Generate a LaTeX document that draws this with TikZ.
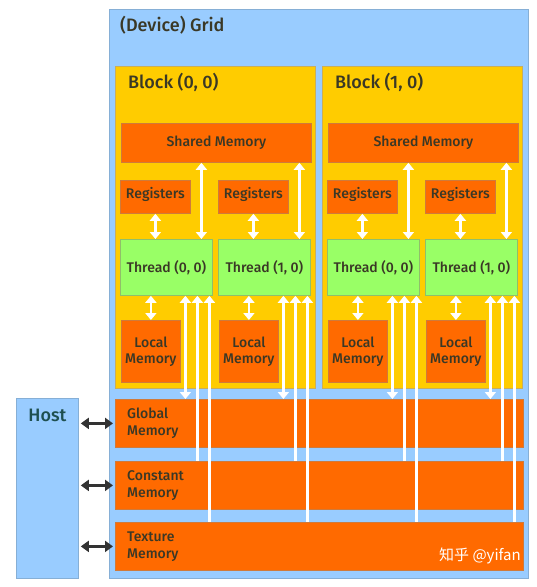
\documentclass[tikz,border=0pt]{standalone}
\usepackage{fontspec}
\setmainfont{Fira Sans}[UprightFont=* Medium]
\newfontfamily\cjk{Noto Sans CJK SC}
\usetikzlibrary{arrows.meta}

\definecolor{gridblue}{HTML}{99CCFF}
\definecolor{gridedge}{HTML}{86AFD6}
\definecolor{blockyellow}{HTML}{FFCC00}
\definecolor{blockedge}{HTML}{C9AE5A}
\definecolor{memorange}{HTML}{FF6A00}
\definecolor{memedge}{HTML}{D07A3A}
\definecolor{threadgreen}{HTML}{99FF66}
\definecolor{threadedge}{HTML}{8FBF6A}
\definecolor{labeltext}{HTML}{3A3826}
\definecolor{hosttext}{HTML}{1E4F4F}

\begin{document}
\begin{tikzpicture}
  [x=1pt, y=-1pt,
   box/.style={anchor=north west, inner sep=0pt, line width=0.8pt, text=labeltext,
     font=\fontsize{14}{16}\selectfont},
   area/.style={box, fill=gridblue, draw=gridedge},
   blockbox/.style={box, fill=blockyellow, draw=blockedge},
   mem/.style={box, fill=memorange, draw=memedge},
   threadbox/.style={box, fill=threadgreen, draw=threadedge},
   title/.style={anchor=west, inner sep=0pt, text=labeltext, font=\fontsize{18}{20}\selectfont},
   memlabel/.style={anchor=west, inner sep=0pt, align=left, text=labeltext,
     font=\fontsize{14}{17}\selectfont},
   warrow/.style={draw=white, line width=2.6pt,
     {Triangle[width=11pt,length=7pt]}-{Triangle[width=11pt,length=7pt]}},
   uparrow/.style={draw=white, line width=2.6pt, {Triangle[width=11pt,length=7pt]}-},
   harrow/.style={draw=black!80, line width=2.4pt, shorten <=2pt, shorten >=2pt,
     {Triangle[width=11pt,length=8pt]}-{Triangle[width=11pt,length=8pt]}}]

  \fill[white] (0,0) rectangle (537,587);
  \useasboundingbox (0,0) rectangle (537,587);

  % grid and host
  \node[area, minimum width=419pt, minimum height=569pt] (grid) at (109,9) {};
  \node[title] (gridtitle) at (120,25) {(Device) Grid};
  \node[area, minimum width=62pt, minimum height=180pt] (host) at (16,398) {};
  \node[title, anchor=center, text=hosttext] (hostlabel) at ([yshift=-17]host.north) {Host};

  % memories shared by the whole grid
  \node[mem, minimum width=408pt, minimum height=48pt] (gm) at (115,399) {};
  \node[mem, minimum width=408pt, minimum height=48pt] (cm) at (115,461) {};
  \node[mem, minimum width=408pt, minimum height=48pt] (tm) at (115,522) {};
  \node[memlabel] (gmlabel) at ([xshift=12]gm.west) {Global\\Memory};
  \node[memlabel] (cmlabel) at ([xshift=12]cm.west) {Constant\\Memory};
  \node[memlabel] (tmlabel) at ([xshift=12]tm.west) {Texture\\Memory};

  \draw[harrow] (host.east |- gm.west) -- (gm.west);
  \draw[harrow] (host.east |- cm.west) -- (cm.west);
  \draw[harrow] (host.east |- tm.west) -- (tm.west);

  % blocks
  \foreach \b/\ox in {0/0, 1/207}
  {
    \node[blockbox, minimum width=200pt, minimum height=322pt] (b\b) at (115+\ox,66) {};
    \node[title] (b\b title) at (128+\ox,82) {Block (\b, 0)};
    \node[mem, minimum width=190pt, minimum height=39pt] (b\b sm) at (121+\ox,123) {Shared Memory};
    \foreach \t/\tx in {0/0, 1/98}
    {
      \node[mem, minimum width=70pt, minimum height=33pt, text depth=8pt] (b\b r\t) at (120+\ox+\tx,180) {Registers};
      \node[threadbox, minimum width=92pt, minimum height=56pt] (b\b t\t) at (120+\ox+\tx,239) {Thread (\t, 0)};
      \node[mem, minimum width=59pt, minimum height=62pt, align=center] (b\b l\t) at (121+\ox+\tx,320) {Local\\Memory};

      \draw[warrow] (b\b r\t.south) -- (b\b r\t.south |- b\b t\t.north);
      \draw[warrow] (b\b l\t.north) -- (b\b l\t.north |- b\b t\t.south);
      \draw[warrow] ([xshift=35]b\b t\t.north) -- ([xshift=35]b\b t\t.north |- b\b sm.south);
      \draw[warrow] ([xshift=19]b\b t\t.south) -- ([xshift=19]b\b t\t.south |- gm.north);
      \draw[uparrow] ([xshift=31]b\b t\t.south) -- ([xshift=31]b\b t\t.south |- cm.north);
      \draw[uparrow] ([xshift=43]b\b t\t.south) -- ([xshift=43]b\b t\t.south |- tm.north);
    }
  }

  \node[anchor=east, inner sep=0pt, text=white, font=\fontsize{15}{17}\selectfont\cjk] (mark) at (521,556) {知乎 @yifan};
\end{tikzpicture}
\end{document}
